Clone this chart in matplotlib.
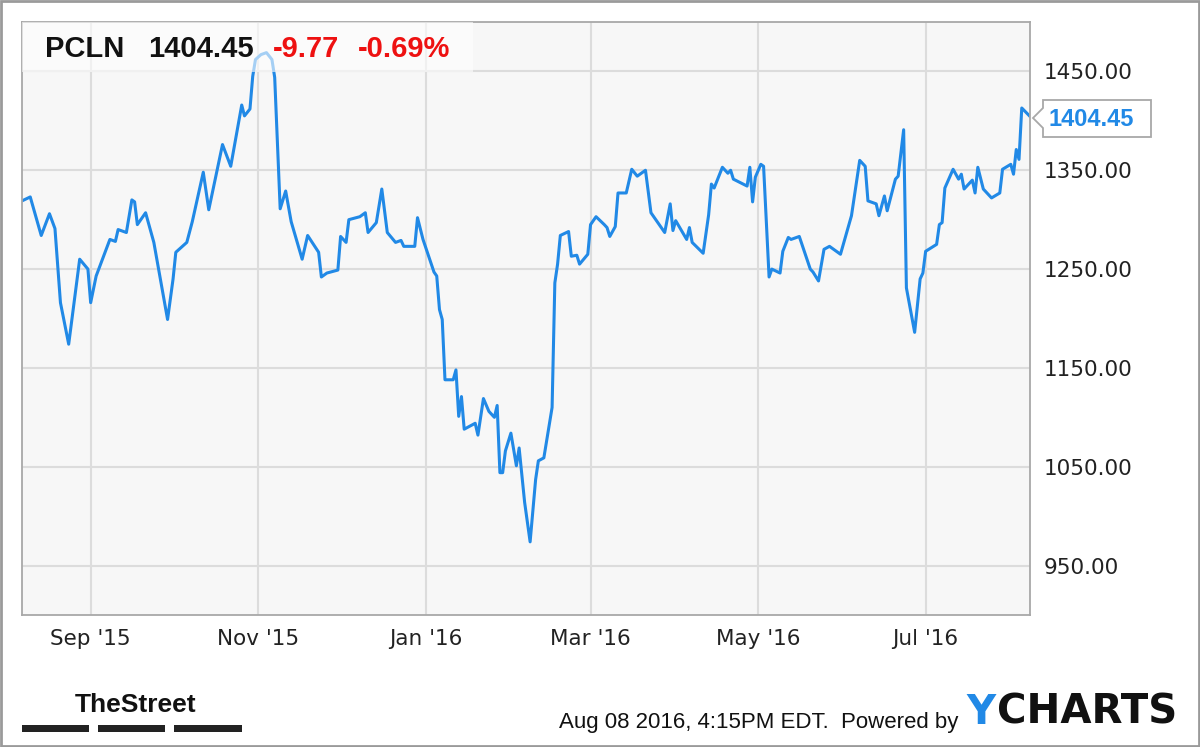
import matplotlib
matplotlib.use("Agg")
import matplotlib.pyplot as plt
import matplotlib.dates as mdates
from matplotlib.patches import Rectangle, Polygon
from matplotlib import font_manager
import pandas as pd

# PCLN daily close
dates = [
    "2015-08-07", "2015-08-10", "2015-08-14", "2015-08-17", "2015-08-19", "2015-08-21", "2015-08-24", "2015-08-28", "2015-08-31",
    "2015-09-01", "2015-09-03", "2015-09-08", "2015-09-10", "2015-09-11", "2015-09-14", "2015-09-16", "2015-09-17", "2015-09-18",
    "2015-09-21", "2015-09-24", "2015-09-29",
    "2015-10-01", "2015-10-02", "2015-10-06", "2015-10-08", "2015-10-12", "2015-10-14", "2015-10-19", "2015-10-22", "2015-10-26",
    "2015-10-27", "2015-10-29", "2015-10-30", "2015-10-31",
    "2015-11-02", "2015-11-04", "2015-11-06", "2015-11-07", "2015-11-08", "2015-11-09", "2015-11-11", "2015-11-13", "2015-11-17",
    "2015-11-19", "2015-11-23", "2015-11-24", "2015-11-26", "2015-11-30",
    "2015-12-01", "2015-12-03", "2015-12-04", "2015-12-08", "2015-12-10", "2015-12-11", "2015-12-14", "2015-12-16", "2015-12-18",
    "2015-12-21", "2015-12-23", "2015-12-24", "2015-12-28", "2015-12-29", "2015-12-31",
    "2016-01-04", "2016-01-05", "2016-01-06", "2016-01-07", "2016-01-08", "2016-01-11", "2016-01-12", "2016-01-13", "2016-01-14",
    "2016-01-15", "2016-01-19", "2016-01-20", "2016-01-22", "2016-01-24", "2016-01-26", "2016-01-27", "2016-01-28", "2016-01-29",
    "2016-01-30",
    "2016-02-01", "2016-02-03", "2016-02-04", "2016-02-06", "2016-02-08", "2016-02-10", "2016-02-11", "2016-02-13", "2016-02-16",
    "2016-02-17", "2016-02-18", "2016-02-19", "2016-02-22", "2016-02-23", "2016-02-25", "2016-02-26", "2016-02-29",
    "2016-03-01", "2016-03-03", "2016-03-06", "2016-03-07", "2016-03-08", "2016-03-10", "2016-03-11", "2016-03-14", "2016-03-16",
    "2016-03-18", "2016-03-21", "2016-03-23", "2016-03-25", "2016-03-28", "2016-03-30", "2016-03-31",
    "2016-04-01", "2016-04-05", "2016-04-06", "2016-04-07", "2016-04-11", "2016-04-13", "2016-04-14", "2016-04-15", "2016-04-18",
    "2016-04-20", "2016-04-21", "2016-04-22", "2016-04-27", "2016-04-28", "2016-04-29", "2016-04-30",
    "2016-05-02", "2016-05-03", "2016-05-05", "2016-05-06", "2016-05-09", "2016-05-10", "2016-05-12", "2016-05-13", "2016-05-16",
    "2016-05-20", "2016-05-21", "2016-05-23", "2016-05-25", "2016-05-27", "2016-05-31",
    "2016-06-04", "2016-06-07", "2016-06-09", "2016-06-10", "2016-06-13", "2016-06-14", "2016-06-16", "2016-06-17", "2016-06-20",
    "2016-06-21", "2016-06-23", "2016-06-24", "2016-06-27", "2016-06-29", "2016-06-30",
    "2016-07-01", "2016-07-05", "2016-07-06", "2016-07-07", "2016-07-08", "2016-07-11", "2016-07-13", "2016-07-14", "2016-07-15",
    "2016-07-18", "2016-07-19", "2016-07-20", "2016-07-22", "2016-07-25", "2016-07-28", "2016-07-29",
    "2016-08-01", "2016-08-02", "2016-08-03", "2016-08-04", "2016-08-05", "2016-08-08",
]
prices = [
    1319, 1323, 1284, 1306, 1291, 1216, 1174, 1260, 1250,
    1216, 1243, 1280, 1278, 1290, 1287, 1320, 1318, 1295, 1307, 1277, 1199,
    1240, 1267, 1277, 1298, 1348, 1310, 1376, 1354, 1416, 1405, 1412, 1445, 1462,
    1467, 1469, 1462, 1444, 1378, 1311, 1329, 1298, 1260, 1284, 1267, 1242, 1246, 1249,
    1283, 1277, 1300, 1303, 1307, 1287, 1297, 1331, 1287, 1277, 1279, 1273, 1273, 1302, 1280,
    1247, 1243, 1209, 1199, 1138, 1138, 1148, 1101, 1121, 1088, 1094, 1082, 1119, 1106, 1100, 1112, 1044, 1044, 1066,
    1084, 1051, 1069, 1014, 974, 1037, 1056, 1059, 1110, 1236, 1255, 1284, 1288, 1263, 1264, 1255, 1265,
    1295, 1303, 1295, 1292, 1283, 1293, 1327, 1327, 1351, 1344, 1350, 1307, 1299, 1287, 1316, 1289,
    1299, 1280, 1292, 1277, 1266, 1305, 1336, 1332, 1353, 1347, 1350, 1341, 1334, 1353, 1318, 1343,
    1356, 1354, 1242, 1250, 1246, 1268, 1282, 1280, 1283, 1250, 1247, 1238, 1270, 1273, 1265,
    1304, 1360, 1354, 1319, 1316, 1304, 1324, 1309, 1341, 1344, 1391, 1231, 1186, 1240, 1246,
    1268, 1275, 1295, 1297, 1332, 1351, 1341, 1346, 1331, 1340, 1327, 1353, 1331, 1322, 1327, 1351,
    1356, 1346, 1371, 1361, 1413, 1404.45,
]
yticks = [950, 1050, 1150, 1250, 1350, 1450]

ticker = "PCLN"
last_price = "1404.45"
change = "-9.77"
change_pct = "-0.69%"
stamp = "Aug 08 2016, 4:15PM EDT.  Powered by"

BLUE = "#2189e6"
W, H = 1200, 747

installed = {f.name for f in font_manager.fontManager.ttflist}
narrow = "Liberation Sans Narrow" if "Liberation Sans Narrow" in installed else "Liberation Sans"
logo_size = 22 if narrow == "Liberation Sans Narrow" else 19


def fx(px):
    return px / W


def fy(py):
    return 1 - py / H


x = pd.to_datetime(dates)

fig = plt.figure(figsize=(12, 7.47), dpi=100)
ax = fig.add_axes([fx(22), fy(615), 1008 / W, 593 / H])
ax.set_facecolor("#f7f7f7")

ax.plot(x, prices, color=BLUE, lw=2.2, zorder=2, solid_joinstyle="round")

ax.set_xlim(x[0], x[-1])
ax.set_ylim(900, 1500)
ax.set_yticks(yticks)
ax.yaxis.set_major_formatter(matplotlib.ticker.FormatStrFormatter("%.2f"))
ax.yaxis.tick_right()
ax.xaxis.set_major_locator(mdates.MonthLocator(bymonth=[1, 3, 5, 7, 9, 11]))
ax.xaxis.set_major_formatter(mdates.DateFormatter("%b '%y"))
ax.tick_params(length=0, labelsize=15.5, labelcolor="#222222", pad=10)
ax.grid(True, color="#dcdcdc", lw=1.5, zorder=1)
ax.set_axisbelow(True)
for s in ax.spines.values():
    s.set_color("#a8a8a8")
    s.set_linewidth(1.3)

# translucent header strip over the top-left of the plot
ax.add_patch(Rectangle((0, (615 - 72) / 593), (473 - 22) / 1008, 50 / 593,
                       transform=ax.transAxes, facecolor="white", alpha=0.6,
                       edgecolor="none", zorder=3))

fig.text(fx(45), fy(49), ticker, fontsize=21, fontweight="bold", family="Liberation Sans",
         va="center", color="#111111")
fig.text(fx(148), fy(49), last_price, fontsize=21, fontweight="bold", family="Liberation Sans",
         va="center", color="#111111")
fig.text(fx(273), fy(49), change, fontsize=21, fontweight="bold", family="Liberation Sans",
         va="center", color="#ee1111")
fig.text(fx(358), fy(49), change_pct, fontsize=21, fontweight="bold", family="Liberation Sans",
         va="center", color="#ee1111")

# last price tag
tag = [(1033, 118), (1043, 108), (1043, 100), (1151, 100), (1151, 137), (1043, 137), (1043, 128)]
fig.add_artist(Polygon([(fx(a), fy(b)) for a, b in tag], closed=True, transform=fig.transFigure,
                       facecolor="white", edgecolor="#a8a8a8", lw=1.3))
fig.text(fx(1048), fy(119), last_price, fontsize=17, fontweight="bold", family="Liberation Sans",
         va="center", color=BLUE)

# footer
fig.text(fx(75), fy(712), "TheStreet", fontsize=logo_size, fontweight="bold", family=narrow,
         va="baseline", color="#111111")
for a, b in [(22, 89), (98, 165), (174, 242)]:
    fig.add_artist(Rectangle((fx(a), fy(732)), (b - a) / W, 7 / H, transform=fig.transFigure,
                             facecolor="#222222", edgecolor="none"))
fig.text(fx(958), fy(728), stamp, fontsize=16, family=narrow, ha="right", va="baseline",
         color="#111111")
fig.text(fx(966), fy(724), "Y", fontsize=29, fontweight="bold", family="DejaVu Sans",
         va="baseline", color=BLUE)
fig.text(fx(997), fy(724), "CHARTS", fontsize=29, fontweight="bold", family="DejaVu Sans",
         va="baseline", color="#111111")

# outer frame
fig.add_artist(Rectangle((0.001, 0.001), 0.998, 0.997, transform=fig.transFigure,
                         facecolor="none", edgecolor="#9a9a9a", lw=2))

fig.savefig("out.png", dpi=100, facecolor="white")
